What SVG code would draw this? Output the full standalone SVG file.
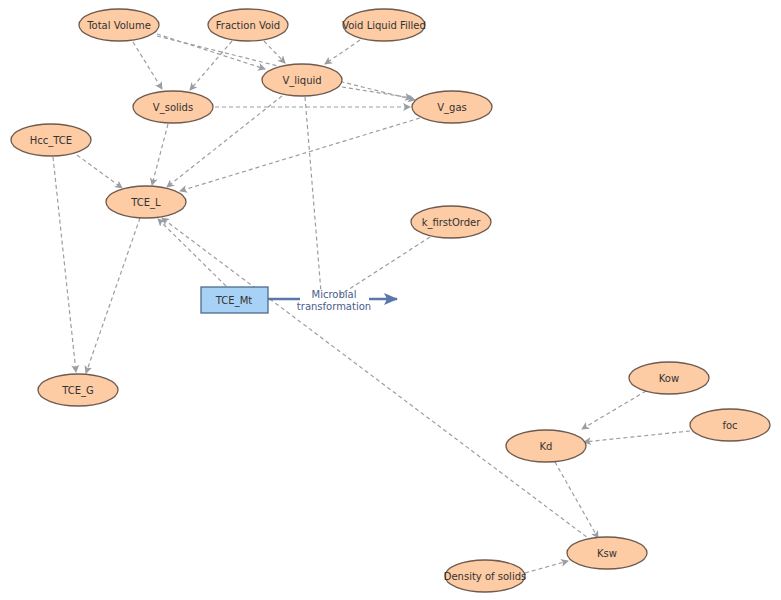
<svg xmlns="http://www.w3.org/2000/svg" width="781" height="600" viewBox="0 0 781 600">
<style>
.n ellipse{fill:#fdcba4;stroke:#6e5a4e;stroke-width:1.3}
text{font-family:"Comic Sans MS","DejaVu Sans",sans-serif;font-size:10px;fill:#333;text-anchor:middle;dominant-baseline:central}
.e line{stroke:#9a9ea3;stroke-width:1.2;stroke-dasharray:4,3;marker-end:url(#a)}
.e line.p{marker-end:none}
</style>
<defs><marker id="a" markerWidth="8" markerHeight="8" refX="7" refY="4" orient="auto" markerUnits="userSpaceOnUse"><path d="M0,0L8,4L0,8L2,4z" fill="#9a9ea3"/></marker>
<marker id="f" markerWidth="14" markerHeight="12" refX="13" refY="6" orient="auto" markerUnits="userSpaceOnUse"><path d="M0,0L14,6L0,12L3,6z" fill="#5b77a8"/></marker></defs>
<rect width="781" height="600" fill="#fff"/>
<g class="e">
<line x1="133" y1="42" x2="162" y2="89"/>
<line x1="157" y1="34" x2="265" y2="69"/>
<line x1="157" y1="36" x2="415" y2="100"/>
<line x1="232" y1="41" x2="190" y2="90"/>
<line x1="264" y1="41" x2="285" y2="63"/>
<line x1="360" y1="40" x2="325" y2="64"/>
<line x1="342" y1="87" x2="412" y2="98"/>
<line x1="215" y1="107" x2="410" y2="107"/>
<line x1="168" y1="124" x2="152" y2="185"/>
<line x1="282" y1="96" x2="167" y2="187"/>
<line x1="420" y1="118" x2="180" y2="191"/>
<line x1="77" y1="155" x2="122" y2="188"/>
<line x1="53" y1="157" x2="76" y2="372"/>
<line x1="140" y1="218" x2="86" y2="373"/>
<line x1="226" y1="286" x2="158" y2="219"/>
<line x1="592" y1="541" x2="162" y2="218"/>
<line class="p" x1="305" y1="97" x2="321" y2="292"/>
<line class="p" x1="430" y1="237" x2="340" y2="295"/>
<line x1="646" y1="391" x2="582" y2="429"/>
<line x1="690" y1="431" x2="584" y2="442"/>
<line x1="555" y1="462" x2="598" y2="538"/>
<line x1="525" y1="573" x2="568" y2="561"/>
</g>
<g id="flow">
<line x1="268" y1="299" x2="300" y2="299" stroke="#5b77a8" stroke-width="2.5"/>
<line x1="369" y1="299" x2="397" y2="299" stroke="#5b77a8" stroke-width="2.5" marker-end="url(#f)"/>
<text x="334" y="294" style="fill:#4a5d8a">Microbial</text>
<text x="334" y="306" style="fill:#4a5d8a">transformation</text>
</g>
<g id="TCE_Mt"><rect x="201" y="287" width="67" height="26" fill="#a8d2f5" stroke="#4e6a8e" stroke-width="1.3"/><text x="234" y="300">TCE_Mt</text></g>
<g class="n" id="TotalVolume"><ellipse cx="119" cy="25" rx="40" ry="16"/><text x="119" y="25">Total Volume</text></g>
<g class="n" id="FractionVoid"><ellipse cx="248" cy="25" rx="40" ry="16"/><text x="248" y="25">Fraction Void</text></g>
<g class="n" id="VoidLiquidFilled"><ellipse cx="384" cy="25" rx="41" ry="16"/><text x="384" y="25">Void Liquid Filled</text></g>
<g class="n" id="V_liquid"><ellipse cx="302" cy="80" rx="40" ry="16"/><text x="302" y="80">V_liquid</text></g>
<g class="n" id="V_solids"><ellipse cx="173" cy="107" rx="40" ry="16"/><text x="173" y="107">V_solids</text></g>
<g class="n" id="V_gas"><ellipse cx="452" cy="107" rx="40" ry="16"/><text x="452" y="107">V_gas</text></g>
<g class="n" id="Hcc_TCE"><ellipse cx="51" cy="140" rx="40" ry="16"/><text x="51" y="140">Hcc_TCE</text></g>
<g class="n" id="TCE_L"><ellipse cx="146" cy="202" rx="40" ry="16"/><text x="146" y="202">TCE_L</text></g>
<g class="n" id="k_firstOrder"><ellipse cx="451" cy="222" rx="40" ry="16"/><text x="451" y="222">k_firstOrder</text></g>
<g class="n" id="TCE_G"><ellipse cx="78" cy="390" rx="40" ry="16"/><text x="78" y="390">TCE_G</text></g>
<g class="n" id="Kow"><ellipse cx="669" cy="378" rx="40" ry="16"/><text x="669" y="378">Kow</text></g>
<g class="n" id="foc"><ellipse cx="730" cy="425" rx="40" ry="16"/><text x="730" y="425">foc</text></g>
<g class="n" id="Kd"><ellipse cx="546" cy="446" rx="40" ry="16"/><text x="546" y="446">Kd</text></g>
<g class="n" id="Ksw"><ellipse cx="607" cy="553" rx="40" ry="16"/><text x="607" y="553">Ksw</text></g>
<g class="n" id="DensityOfSolids"><ellipse cx="485" cy="576" rx="40" ry="16"/><text x="485" y="576">Density of solids</text></g>
</svg>
